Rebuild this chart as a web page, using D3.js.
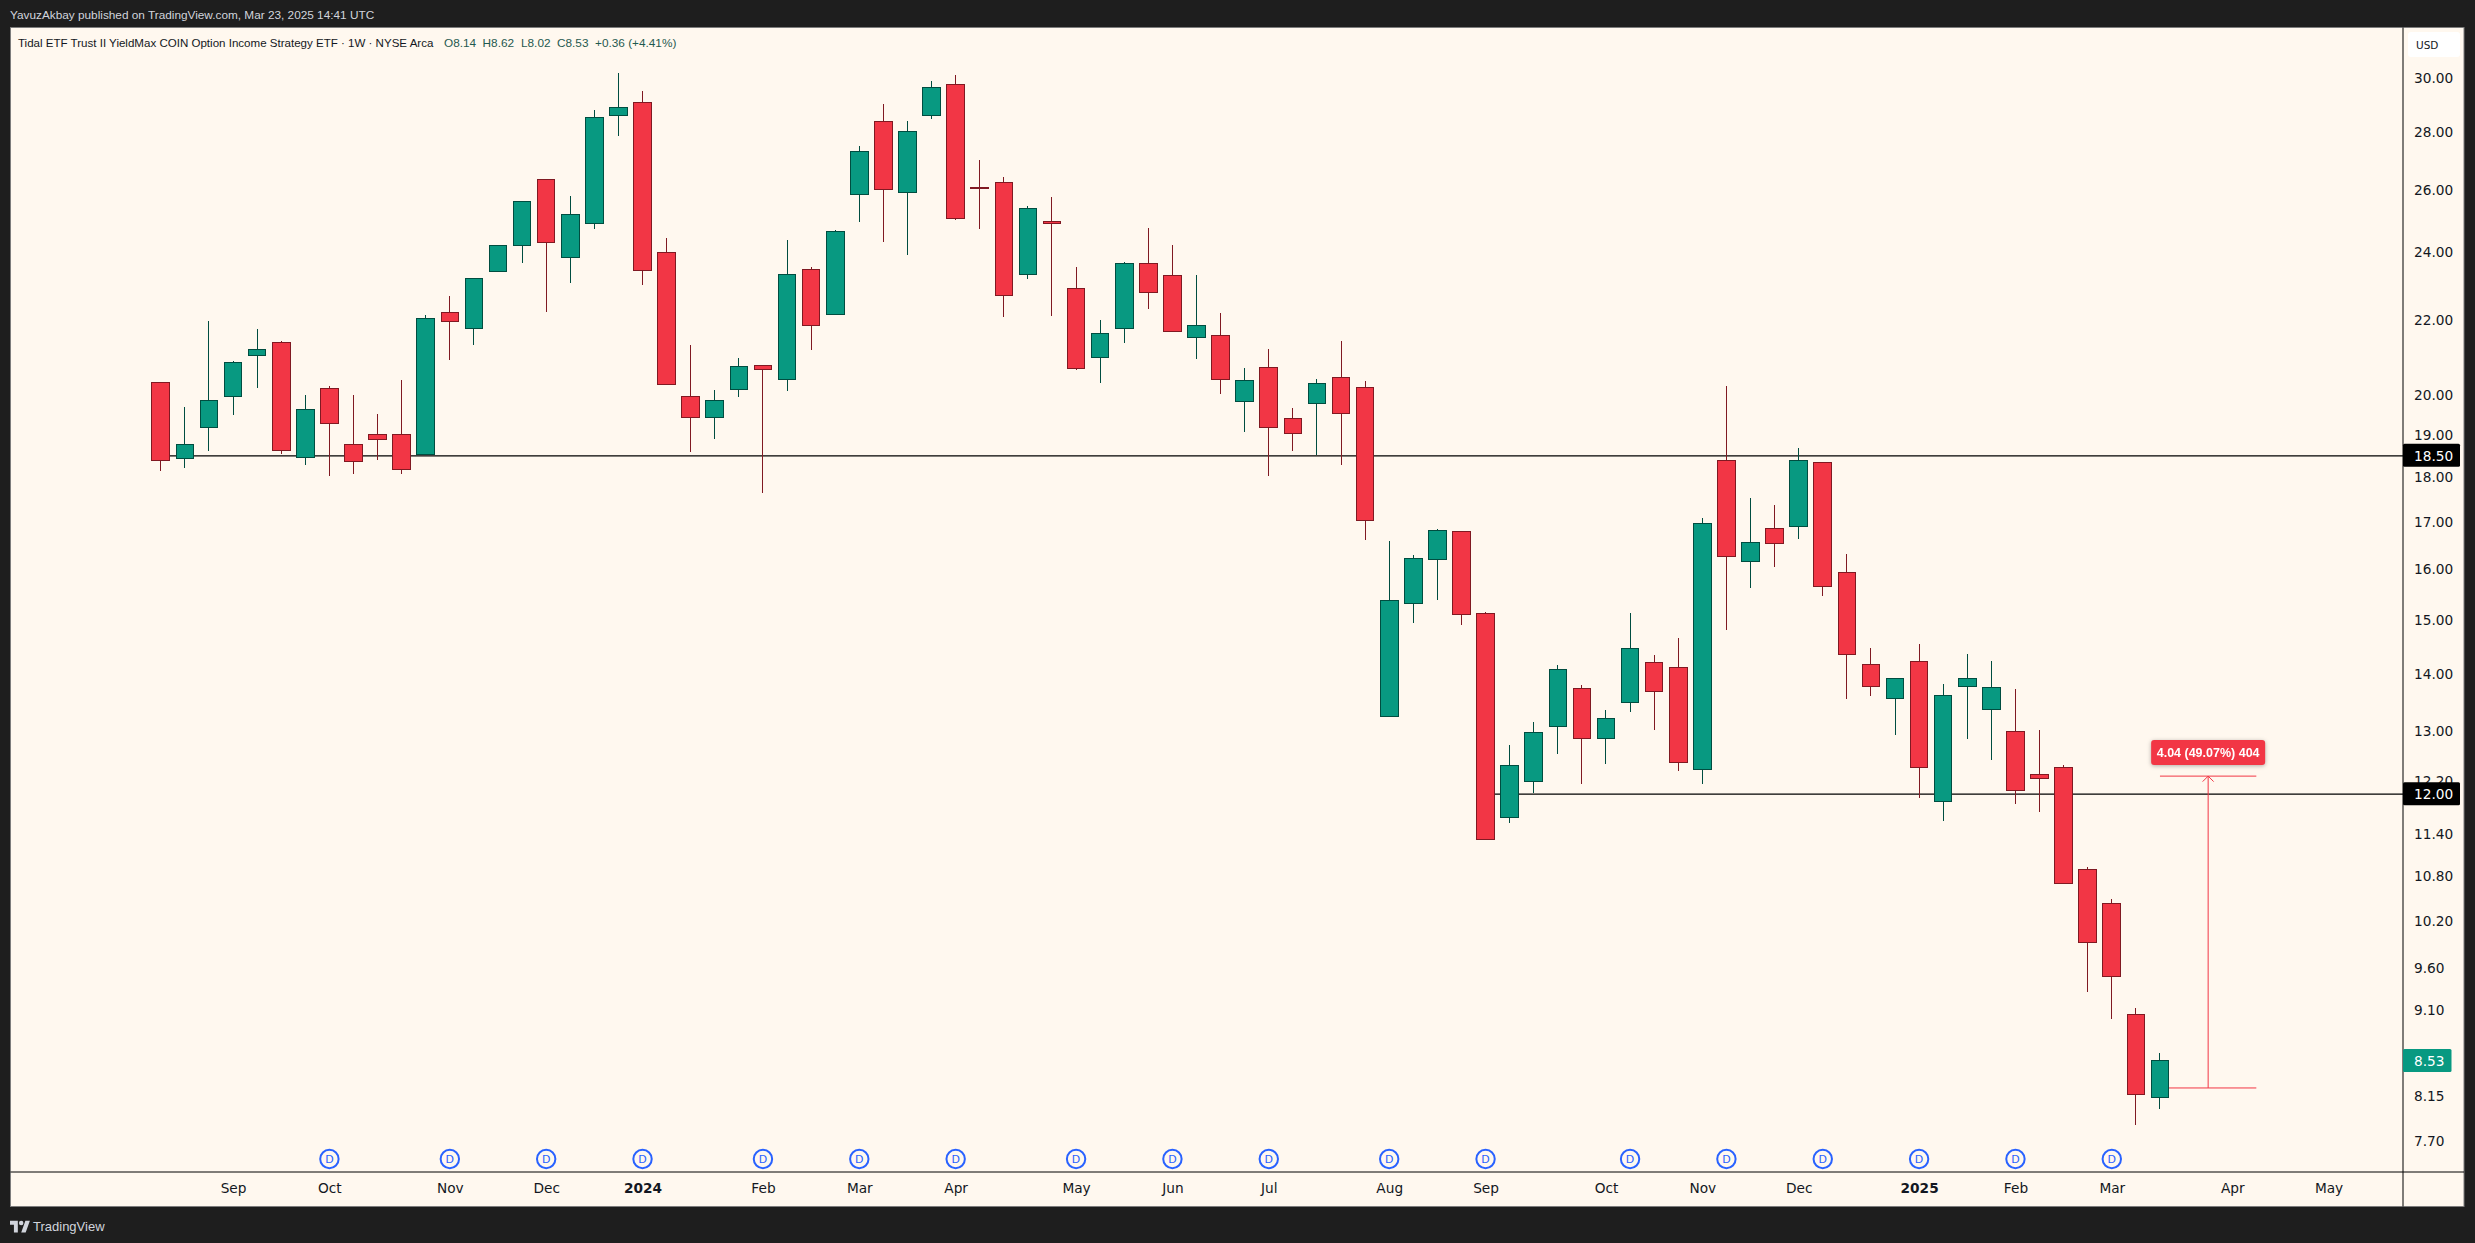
<!DOCTYPE html>
<html>
<head>
<meta charset="utf-8">
<script src="https://cdn.jsdelivr.net/npm/d3@7"></script>
<style>
  html, body { margin: 0; background: #1e1e1e; overflow: hidden; }
  svg { display: block; }
  .axis text { font-family: "DejaVu Sans", sans-serif; font-size: 13.7px; fill: #131722; }
  .axis path, .axis line { display: none; }
  .head { font-family: "Liberation Sans", sans-serif; font-size: 11.8px; }
</style>
</head>
<body>
<div id="chart"></div>
<script>
// weekly bars, first bar is the week of 14 Aug 2023
const opens = [20.32,18.43,19.17,19.95,21.02,21.38,18.47,20.16,18.77,19.01,19.01,18.52,22.22,21.76,23.41,24.20,26.34,23.83,24.89,28.61,29.07,
  23.99,19.96,19.42,20.15,20.76,20.39,23.48,22.18,25.86,28.37,25.90,28.61,29.75,26.07,26.24,23.32,24.96,22.91,20.97,21.76,23.66,
  23.30,21.51,21.58,19.82,20.71,19.40,19.77,20.45,20.19,13.25,15.31,16.21,16.79,15.12,11.64,12.19,13.08,13.74,12.88,13.49,14.20,
  14.11,12.38,18.39,16.17,16.86,16.91,18.34,15.93,14.16,13.57,14.22,11.88,13.78,13.38,13.00,12.31,12.42,10.90,10.43,9.05,8.14];
const highs = [20.32,19.69,21.98,20.88,21.75,21.44,19.99,20.24,19.99,19.51,20.38,22.15,22.69,23.24,24.21,25.61,26.34,25.79,28.79,30.18,29.49,
  24.44,21.31,20.12,20.96,20.76,24.38,23.55,24.69,27.49,29.01,28.38,29.87,30.10,27.00,26.42,25.46,25.75,23.55,22.00,23.70,24.75,
  24.22,23.31,22.20,20.69,21.20,19.66,20.40,21.42,20.35,16.59,16.29,16.84,16.81,15.15,12.78,13.16,14.15,13.79,13.36,15.13,14.33,
  14.65,17.08,20.22,17.52,17.37,18.68,18.34,16.31,14.46,13.91,14.54,13.81,14.35,14.23,13.72,13.02,12.45,10.93,10.50,9.13,8.62];
const lows = [18.14,18.21,18.61,19.49,20.17,18.54,18.28,18.02,18.07,18.40,18.07,18.52,20.91,21.31,23.41,23.67,22.23,23.07,24.72,27.84,23.01,
  20.25,18.59,18.90,19.94,17.64,20.09,21.18,22.18,24.94,24.31,23.91,28.47,25.01,24.72,22.09,23.19,22.12,20.64,20.30,21.37,22.32,
  21.68,20.93,20.02,19.07,18.02,18.61,18.51,18.28,16.61,13.25,14.93,15.38,14.90,11.31,11.56,12.01,12.63,12.15,12.47,13.33,13.02,
  12.36,12.15,14.80,15.62,16.04,16.63,15.46,13.55,13.60,12.94,11.94,11.59,12.87,12.53,11.85,11.73,10.69,9.32,9.00,7.86,8.02];
const closes = [18.40,18.77,19.86,20.84,21.19,18.62,19.63,19.27,18.36,18.88,18.19,22.05,21.96,23.21,24.21,25.61,24.29,25.19,28.52,28.88,23.44,
  20.28,19.44,19.86,20.74,20.65,23.33,21.87,24.65,27.30,26.00,28.01,29.63,25.05,26.03,22.70,25.38,24.89,20.68,21.63,23.66,22.79,
  21.68,21.85,20.39,20.37,19.17,19.03,20.29,19.52,17.02,15.37,16.22,16.81,15.11,11.33,12.45,12.98,14.07,12.88,13.22,14.46,13.68,
  12.49,16.96,16.26,16.56,16.53,18.39,15.66,14.34,13.78,13.91,12.41,13.61,13.91,13.75,12.05,12.25,10.71,9.93,9.50,8.17,8.53];

const priceTicks = [30,28,26,24,22,20,19,18,17,16,15,14,13,12.2,11.4,10.8,10.2,9.6,9.1,8.6,8.15,7.7];
const monthLabels = ["Sep","Oct","Nov","Dec","2024","Feb","Mar","Apr","May","Jun","Jul","Aug","Sep","Oct","Nov","Dec","2025","Feb","Mar","Apr","May"];
const monthBars = [3,7,12,16,20,25,29,33,38,42,46,51,55,60,64,68,73,77,81,86,90];
const dividendBars = [7,12,16,20,25,29,33,38,42,46,51,55,61,65,69,73,77,81];

const levelPrices = [18.5, 12];
const levelStartBars = [0, 55];
const lastPrice = 8.53;
const measureLow = 8.24;
const measureHigh = 12.28;
const measureBars = [83, 85, 87];

const width = 2475, height = 1243;
const green = "#089981", greenDark = "#004d40", red = "#f23645", redDark = "#801922", paper = "#fff8ef";
const left = 10.5, top_ = 27.5, right = 2403, bottom = 1172, frameR = 2464, frameB = 1206.5;

const x = d3.scaleLinear().domain([-6.24, 93.09]).range([left, right]);
const y = d3.scaleLog().domain([7.4, 32]).range([bottom, top_]);

const svg = d3.select("#chart").append("svg").attr("width", width).attr("height", height);

// frame
svg.append("rect").attr("x", left).attr("y", top_).attr("width", frameR - left).attr("height", frameB - top_)
  .attr("fill", paper).attr("stroke", "#7d7d7d").attr("stroke-width", 1);

// support levels sit under the candles
svg.selectAll(".level").data(levelPrices).enter().append("line")
  .attr("class", "level")
  .attr("x1", (d, i) => x(levelStartBars[i])).attr("x2", right)
  .attr("y1", d => y(d)).attr("y2", d => y(d))
  .attr("stroke", "#000").attr("stroke-width", 1.3);

// measure tool
const measure = svg.append("g").attr("stroke", red).attr("stroke-width", 1).attr("fill", "none");
[measureLow, measureHigh].forEach(p => {
  measure.append("line").attr("x1", x(measureBars[0])).attr("x2", x(measureBars[2])).attr("y1", y(p)).attr("y2", y(p));
});
measure.append("line").attr("x1", x(measureBars[1])).attr("x2", x(measureBars[1])).attr("y1", y(measureLow)).attr("y2", y(measureHigh));
measure.append("path").attr("d", `M${x(measureBars[1]) - 5.5},${y(measureHigh) + 5.5}L${x(measureBars[1])},${y(measureHigh)}L${x(measureBars[1]) + 5.5},${y(measureHigh) + 5.5}`);

// candles
const bars = opens.map((o, i) => ({ i, o, h: highs[i], l: lows[i], c: closes[i], up: closes[i] >= o }));
const candle = svg.selectAll(".candle").data(bars).enter().append("g").attr("class", "candle")
  .attr("shape-rendering", "crispEdges");
candle.append("line")
  .attr("x1", d => x(d.i)).attr("x2", d => x(d.i))
  .attr("y1", d => y(d.h)).attr("y2", d => y(d.l))
  .attr("stroke", d => d.up ? greenDark : redDark).attr("stroke-width", 1);
candle.append("rect")
  .attr("x", d => x(d.i) - 8.8).attr("width", 17.6)
  .attr("y", d => y(Math.max(d.o, d.c)))
  .attr("height", d => Math.abs(y(d.o) - y(d.c)))
  .attr("fill", d => d.up ? green : red)
  .attr("stroke", d => d.up ? greenDark : redDark).attr("stroke-width", 1);

// label of the measure tool
const tag = svg.append("g").style("filter", "drop-shadow(0 1px 2px rgba(0,0,0,.3))");
tag.append("rect").attr("x", x(measureBars[1]) - 57).attr("y", 740).attr("width", 114).attr("height", 25).attr("rx", 3).attr("fill", red);
tag.append("text").attr("x", x(measureBars[1])).attr("y", 756.5).attr("text-anchor", "middle")
  .attr("font-family", "Liberation Sans, sans-serif").attr("font-size", 12.5).attr("font-weight", 700).attr("fill", "#fff")
  .text("4.04 (49.07%) 404");

// dividend markers
const div = svg.selectAll(".div").data(dividendBars).enter().append("g").attr("class", "div")
  .attr("transform", d => `translate(${x(d)},1159)`);
div.append("circle").attr("r", 9.2).attr("fill", paper).attr("stroke", "#2962ff").attr("stroke-width", 2);
div.append("text").attr("y", 4).attr("text-anchor", "middle").attr("fill", "#2962ff")
  .attr("font-family", "DejaVu Sans, sans-serif").attr("font-size", 11).text("D");

// axes
svg.append("line").attr("x1", right).attr("x2", right).attr("y1", top_).attr("y2", frameB).attr("stroke", "#000");
svg.append("line").attr("x1", left).attr("x2", frameR).attr("y1", bottom).attr("y2", bottom).attr("stroke", "#000");

svg.append("g").attr("class", "axis").attr("transform", `translate(${right},0)`)
  .call(d3.axisRight(y).tickValues(priceTicks).tickSize(0).tickPadding(11).tickFormat(d3.format(".2f")));

svg.append("g").attr("class", "axis").attr("transform", `translate(0,${bottom})`)
  .call(d3.axisBottom(x).tickValues(monthBars).tickSize(0).tickPadding(11).tickFormat((d, i) => monthLabels[i]))
  .selectAll("text")
  .style("font-weight", (d, i) => /^\d+$/.test(monthLabels[i]) ? 700 : 400);

// USD button
svg.append("rect").attr("x", 2408).attr("y", 32).attr("width", 52).attr("height", 25).attr("rx", 3).attr("fill", "#fff");
svg.append("text").attr("x", 2416).attr("y", 48.5).attr("font-family", "DejaVu Sans, sans-serif").attr("font-size", 10.5).attr("fill", "#131722").text("USD");

// price tags on the axis
const priceTag = (p, w, fill, txt) => {
  svg.append("rect").attr("x", right).attr("y", y(p) - 12).attr("width", w).attr("height", 23).attr("rx", 1.5).attr("fill", fill);
  svg.append("text").attr("x", right + 11).attr("y", y(p) + 5).attr("font-family", "DejaVu Sans, sans-serif").attr("font-size", 13.7).attr("fill", "#fff").text(txt);
};
levelPrices.forEach(p => priceTag(p, 57, "#000", d3.format(".2f")(p)));
priceTag(lastPrice, 48.5, green, d3.format(".2f")(lastPrice));

// header and legend texts
svg.append("text").attr("class", "head").attr("x", 10).attr("y", 19).attr("fill", "#d1d4dc")
  .text("YavuzAkbay published on TradingView.com, Mar 23, 2025 14:41 UTC");
svg.append("text").attr("class", "head").attr("x", 18).attr("y", 46.5).attr("fill", "#131722").style("font-size", "11.55px")
  .text("Tidal ETF Trust II YieldMax COIN Option Income Strategy ETF · 1W · NYSE Arca");
const legendItems = [["O8.14", 444], ["H8.62", 482.6], ["L8.02", 521], ["C8.53", 557], ["+0.36 (+4.41%)", 595]];
svg.selectAll(".legend").data(legendItems).enter().append("text").attr("class", "head legend")
  .attr("x", d => d[1]).attr("y", 46.5).attr("fill", "#1f5a50").text(d => d[0]);

// TradingView mark
const logo = svg.append("g").attr("transform", "translate(10,1218.5) scale(0.56)").attr("fill", "#d1d4dc");
logo.append("path").attr("d", "M14 25H7V11H0V4h14v21zM28 25h-8l7.5-21h8L28 25z");
logo.append("circle").attr("cx", 20).attr("cy", 8).attr("r", 4);
svg.append("text").attr("x", 33).attr("y", 1230.5).attr("font-family", "Liberation Sans, sans-serif").attr("font-size", 13).attr("fill", "#d1d4dc").text("TradingView");
</script>
</body>
</html>
